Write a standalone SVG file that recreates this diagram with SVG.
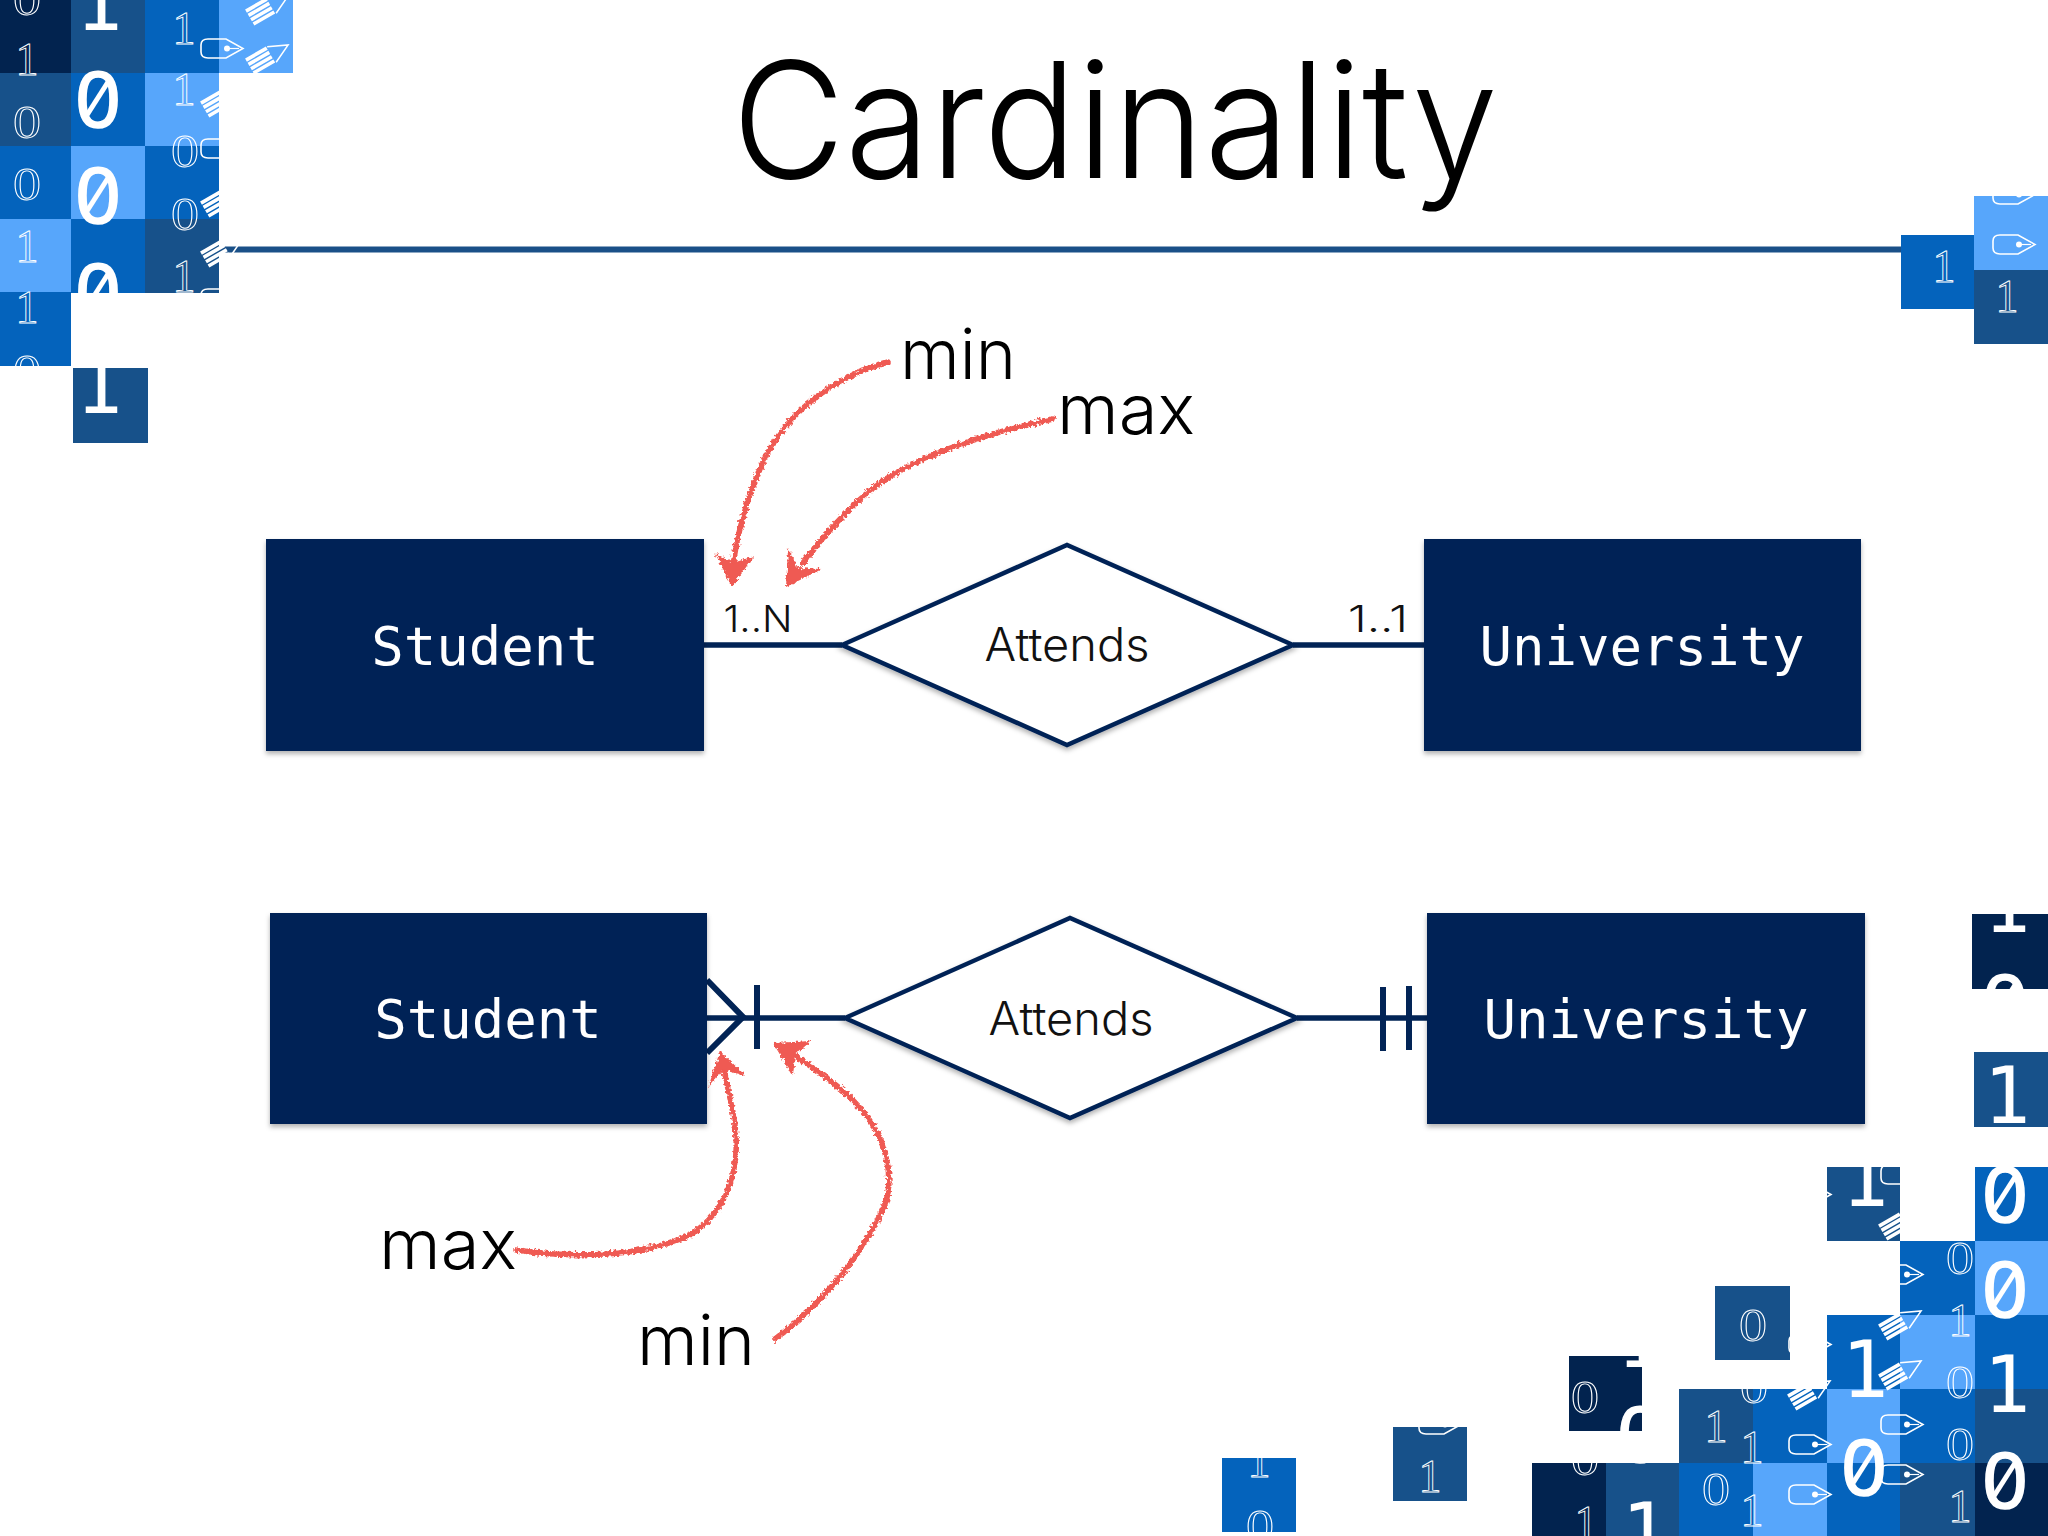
<svg xmlns="http://www.w3.org/2000/svg" xmlns:xlink="http://www.w3.org/1999/xlink" width="2048" height="1536" viewBox="0 0 2048 1536">
<style>
.d{fill:#02234f}.m{fill:#17518a}.n{fill:#0463bc}.l{fill:#57a6fb}
.s{font-family:"Liberation Serif",serif;font-size:46px;fill:none;stroke:#fff;stroke-width:0.9;text-anchor:middle}
.b{font-family:"DejaVu Sans Mono",monospace;font-size:78px;fill:#fff;text-anchor:middle}
.z{font-family:"Liberation Sans",sans-serif;font-size:80px;fill:#fff;stroke:#fff;stroke-width:1.5;text-anchor:middle}
.box{fill:#022456;filter:url(#sh)}
.dia{fill:#fff;stroke:#022456;stroke-width:4.5;stroke-linejoin:miter;filter:url(#sh)}
.ln{fill:none;stroke:#022456;stroke-width:5.5}
.bar{fill:none;stroke:#022456;stroke-width:6}
.name{font-family:"DejaVu Sans Mono",monospace;font-size:54px;fill:#fff;text-anchor:middle}
.rel{font-family:Inter,Roboto,"Liberation Sans",sans-serif;font-weight:300;font-size:46px;fill:#111;text-anchor:middle}
.car{font-family:Inter,Roboto,"Liberation Sans",sans-serif;font-weight:300;font-size:37px;fill:#111;text-anchor:middle}
.ann{font-family:Inter,Roboto,"Liberation Sans",sans-serif;font-weight:300;font-size:70px;fill:#000;text-anchor:middle}
.red{fill:none;stroke:#ef5a52;stroke-width:5.5;stroke-linecap:round}
.redh{fill:#ef5a52}
</style>
<defs>
<filter id="sh" x="-5%" y="-5%" width="110%" height="112%"><feDropShadow dx="0" dy="3" stdDeviation="2.5" flood-color="#000" flood-opacity="0.3"/></filter>
<filter id="rough" x="-10%" y="-10%" width="120%" height="120%"><feTurbulence type="fractalNoise" baseFrequency="0.35" numOctaves="2" seed="4"/><feDisplacementMap in="SourceGraphic" scale="6" xChannelSelector="R" yChannelSelector="G"/></filter>
<g id="nib"><path d="M8 1H26L43 10.5 26 20H8Q1 20 1 14V7Q1 1 8 1Z" fill="none" stroke="#fff" stroke-width="1.6"/><circle cx="27" cy="10.5" r="3" fill="#fff"/><path d="M27 10.5H39" stroke="#fff" stroke-width="1.2"/></g>
<g id="pc" transform="translate(3 20) rotate(-30)"><path d="M0-8H24M0-3H24M0 2H24M0 7H24" stroke="#fff" stroke-width="3.6" fill="none"/><path d="M25-9L44 0 25 9" fill="none" stroke="#fff" stroke-width="1.5"/></g>
<path id="sl" d="M-11-12L10-45" stroke="#fff" stroke-width="5" fill="none"/>
</defs>
<rect width="2048" height="1536" fill="#fff"/>
<path d="M215 249.5H1905" stroke="#1a5088" stroke-width="6" fill="none"/>
<g id="tiles-top-left">
<rect class="d" x="0" y="0" width="71" height="73"/><rect class="m" x="0" y="73" width="71" height="73"/><rect class="n" x="0" y="146" width="71" height="73"/><rect class="l" x="0" y="219" width="71" height="73"/><rect class="n" x="0" y="292" width="71" height="74"/>
<rect class="m" x="71" y="0" width="74" height="73"/><rect class="n" x="71" y="73" width="74" height="73"/><rect class="l" x="71" y="146" width="74" height="73"/><rect class="n" x="71" y="219" width="74" height="74"/>
<rect class="n" x="145" y="0" width="74" height="73"/><rect class="l" x="145" y="73" width="74" height="73"/><rect class="n" x="145" y="146" width="74" height="73"/><rect class="m" x="145" y="219" width="74" height="74"/>
<rect class="l" x="219" y="0" width="74" height="73"/>
<rect class="m" x="73" y="368" width="75" height="75"/>
<text class="s" x="27" y="15" textLength="28" lengthAdjust="spacingAndGlyphs">0</text><text class="s" x="27" y="75">1</text><text class="s" x="27" y="138" textLength="28" lengthAdjust="spacingAndGlyphs">0</text><text class="s" x="27" y="200" textLength="28" lengthAdjust="spacingAndGlyphs">0</text><text class="s" x="27" y="262">1</text><text class="s" x="27" y="323">1</text><text class="s" x="27" y="387" textLength="28" lengthAdjust="spacingAndGlyphs">0</text>
<text class="s" x="184" y="44">1</text><text class="s" x="184" y="105">1</text><text class="s" x="185" y="167" textLength="28" lengthAdjust="spacingAndGlyphs">0</text><text class="s" x="185" y="230" textLength="28" lengthAdjust="spacingAndGlyphs">0</text><text class="s" x="184" y="292">1</text>
<text class="b" x="99" y="30">1</text><text class="z" x="98" y="127">0</text><use href="#sl" x="98" y="127"/><text class="z" x="98" y="223">0</text><use href="#sl" x="98" y="223"/><text class="z" x="98" y="319">0</text><use href="#sl" x="98" y="319"/><text class="b" x="99" y="413">1</text>
<use href="#nib" x="200" y="38"/><use href="#nib" x="200" y="138"/><use href="#nib" x="200" y="288"/>
<use href="#pc" x="247" y="47"/><use href="#pc" x="247" y="-2"/><use href="#pc" x="202" y="90"/><use href="#pc" x="202" y="190"/><use href="#pc" x="202" y="240"/>
</g>
<g id="tiles-top-right">
<rect class="n" x="1901" y="235" width="73" height="74"/><rect class="l" x="1974" y="196" width="74" height="74"/><rect class="m" x="1974" y="270" width="74" height="74"/>
<text class="s" x="1944" y="282">1</text><text class="s" x="2007" y="312">1</text>
<use href="#nib" x="1992" y="234"/><use href="#nib" x="1992" y="184"/>
</g>
<g id="tiles-bottom-right">
<rect class="d" x="1972" y="914" width="76" height="75"/><rect class="m" x="1974" y="1052" width="74" height="75"/>
<rect class="n" x="1975" y="1167" width="73" height="74"/><rect class="l" x="1975" y="1241" width="73" height="74"/><rect class="n" x="1975" y="1315" width="73" height="74"/><rect class="m" x="1975" y="1389" width="73" height="74"/><rect class="d" x="1975" y="1463" width="73" height="73"/>
<rect class="n" x="1900" y="1241" width="75" height="74"/><rect class="l" x="1900" y="1315" width="75" height="74"/><rect class="n" x="1900" y="1389" width="75" height="74"/><rect class="m" x="1900" y="1463" width="75" height="73"/>
<rect class="m" x="1827" y="1167" width="73" height="74"/><rect class="n" x="1827" y="1315" width="73" height="74"/><rect class="l" x="1827" y="1389" width="73" height="74"/><rect class="n" x="1827" y="1463" width="73" height="73"/>
<rect class="n" x="1753" y="1389" width="74" height="74"/><rect class="l" x="1753" y="1463" width="74" height="73"/>
<rect class="m" x="1679" y="1389" width="74" height="74"/><rect class="n" x="1679" y="1463" width="74" height="73"/>
<rect class="m" x="1606" y="1463" width="73" height="73"/><rect class="d" x="1532" y="1463" width="74" height="73"/>
<rect class="m" x="1715" y="1286" width="75" height="74"/><rect class="d" x="1569" y="1356" width="73" height="75"/><rect class="m" x="1393" y="1427" width="74" height="74"/><rect class="n" x="1222" y="1458" width="74" height="74"/>
<text class="s" x="1259" y="1477">1</text><text class="s" x="1260" y="1542" textLength="28" lengthAdjust="spacingAndGlyphs">0</text><text class="s" x="1430" y="1492">1</text><text class="s" x="1585" y="1413" textLength="28" lengthAdjust="spacingAndGlyphs">0</text><text class="s" x="1753" y="1341" textLength="28" lengthAdjust="spacingAndGlyphs">0</text>
<text class="s" x="1754" y="1403" textLength="28" lengthAdjust="spacingAndGlyphs">0</text><text class="s" x="1716" y="1442">1</text><text class="s" x="1752" y="1463">1</text><text class="s" x="1716" y="1505" textLength="28" lengthAdjust="spacingAndGlyphs">0</text><text class="s" x="1752" y="1526">1</text><text class="s" x="1585" y="1475" textLength="28" lengthAdjust="spacingAndGlyphs">0</text><text class="s" x="1586" y="1538">1</text>
<text class="s" x="1960" y="1274" textLength="28" lengthAdjust="spacingAndGlyphs">0</text><text class="s" x="1960" y="1336">1</text><text class="s" x="1960" y="1398" textLength="28" lengthAdjust="spacingAndGlyphs">0</text><text class="s" x="1960" y="1460" textLength="28" lengthAdjust="spacingAndGlyphs">0</text><text class="s" x="1960" y="1522">1</text>
<text class="b" x="1640" y="1367">1</text><text class="z" x="1640" y="1462">0</text><text class="b" x="1645" y="1559">1</text>
<text class="b" x="1865" y="1206">1</text><text class="b" x="1865" y="1397">1</text><text class="z" x="1864" y="1495">0</text><use href="#sl" x="1864" y="1495"/>
<text class="z" x="2005" y="1222">0</text><use href="#sl" x="2005" y="1222"/><text class="z" x="2005" y="1317">0</text><use href="#sl" x="2005" y="1317"/><text class="b" x="2007" y="1412">1</text><text class="z" x="2005" y="1508">0</text><use href="#sl" x="2005" y="1508"/>
<text class="b" x="2007" y="1123">1</text><text class="b" x="2007" y="932">1</text><text class="z" x="2005" y="1030">0</text><use href="#sl" x="2005" y="1030"/>
<use href="#nib" x="1880" y="1264"/><use href="#nib" x="1880" y="1414"/><use href="#nib" x="1880" y="1464"/><use href="#nib" x="1788" y="1434"/><use href="#nib" x="1788" y="1484"/><use href="#nib" x="1788" y="1334"/><use href="#nib" x="1788" y="1184"/><use href="#nib" x="1880" y="1164"/><use href="#nib" x="1418" y="1414"/>
<use href="#pc" x="1880" y="1313"/><use href="#pc" x="1880" y="1363"/><use href="#pc" x="1789" y="1383"/><use href="#pc" x="1880" y="1213"/>
</g>
<text id="title" x="1115" y="178" font-family="Inter,Roboto,'Liberation Sans',sans-serif" font-weight="300" font-size="161" text-anchor="middle" fill="#000" textLength="766" lengthAdjust="spacingAndGlyphs">Cardinality</text>
<g id="connectors">
<path class="ln" d="M704 645H842M1293 645H1424"/>
<path class="ln" d="M707 1018H845M1297 1018H1427"/>
<path class="bar" d="M707 980L743 1017 707 1053"/>
<path class="bar" d="M757 985V1049M1383 987V1051M1409 986V1050"/>
</g>
<g id="student-1"><rect class="box" x="266" y="539" width="438" height="212"/><text class="name" x="485" y="665">Student</text></g>
<g id="attends-1"><path class="dia" d="M842 645L1067 545 1293 645 1067 745Z"/><text class="rel" x="1067" y="661" textLength="165" lengthAdjust="spacingAndGlyphs">Attends</text></g>
<g id="university-1"><rect class="box" x="1424" y="539" width="437" height="212"/><text class="name" x="1642" y="665">University</text></g>
<g id="student-2"><rect class="box" x="270" y="913" width="437" height="211"/><text class="name" x="488" y="1038">Student</text></g>
<g id="attends-2"><path class="dia" d="M845 1018L1070 918 1297 1018 1070 1118Z"/><text class="rel" x="1071" y="1035" textLength="165" lengthAdjust="spacingAndGlyphs">Attends</text></g>
<g id="university-2"><rect class="box" x="1427" y="913" width="438" height="211"/><text class="name" x="1646" y="1038">University</text></g>
<g id="cardinality-labels"><text class="car" x="758" y="632" textLength="69" lengthAdjust="spacingAndGlyphs">1..N</text><text class="car" x="1378" y="632" textLength="60" lengthAdjust="spacingAndGlyphs">1..1</text></g>
<g id="annotations">
<text class="ann" x="958" y="379" textLength="116" lengthAdjust="spacingAndGlyphs">min</text><text class="ann" x="1126" y="434" textLength="138" lengthAdjust="spacingAndGlyphs">max</text><text class="ann" x="448" y="1269" textLength="138" lengthAdjust="spacingAndGlyphs">max</text><text class="ann" x="696" y="1365" textLength="118" lengthAdjust="spacingAndGlyphs">min</text>
<g filter="url(#rough)">
<path class="red" d="M888 362C830 378 785 415 763 462 748 495 738 530 733 565"/>
<path class="redh" d="M715 553L733 563 754 556 732 587Z"/>
<path class="red" d="M1053 419C990 432 920 455 880 483 850 505 820 540 803 563"/>
<path class="redh" d="M788 548L798 568 822 569 786 587Z"/>
<path class="red" d="M516 1250C570 1258 640 1258 690 1235 730 1210 740 1165 735 1125 732 1105 728 1090 724 1070"/>
<path class="redh" d="M720 1051L746 1076 723 1070 708 1088Z"/>
<path class="red" d="M775 1339C815 1310 860 1260 885 1205 895 1175 885 1135 860 1108 840 1085 815 1070 796 1056"/>
<path class="redh" d="M773 1043L811 1041 795 1055 793 1076Z"/>
</g>
</g>
</svg>
